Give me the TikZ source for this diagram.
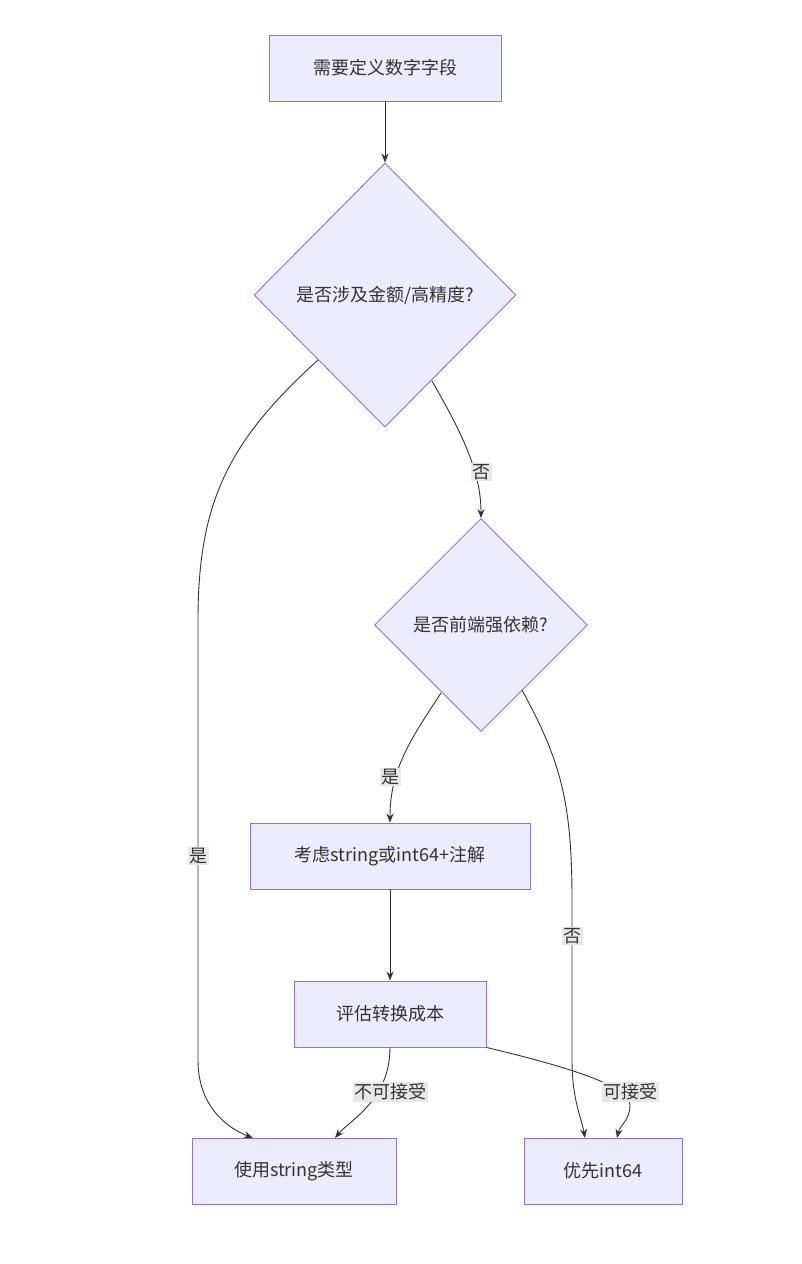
\documentclass[tikz,border=0pt]{standalone}
\usepackage{fontspec}
\setmainfont{Noto Sans CJK SC}
\usetikzlibrary{shapes.geometric,arrows.meta}
\definecolor{nfill}{HTML}{ECECFF}
\definecolor{nstroke}{HTML}{9370DB}
\definecolor{ln}{HTML}{333333}
\definecolor{lbg}{HTML}{E8E8E8}
\begin{document}
\begin{tikzpicture}[x=1pt,y=-1pt,
  every node/.style={font=\fontsize{18}{22}\selectfont, text=ln},
  box/.style={draw=nstroke, fill=nfill, line width=0.9pt, inner sep=0pt},
  dia/.style={draw=nstroke, fill=nfill, line width=0.9pt, diamond, inner sep=0pt},
  lab/.style={fill=lbg, inner sep=1.5pt},
  arr/.style={draw=ln, line width=0.9pt, -{Stealth[length=9pt,width=7pt]}}]
\useasboundingbox (0,0) rectangle (802,1264);
\node[box, minimum width=232pt, minimum height=66pt] (a) at (385,68) {需要定义数字字段};
\node[dia, minimum width=262pt, minimum height=264pt] (d1) at (385,295) {是否涉及金额/高精度?};
\node[dia, minimum width=213pt, minimum height=213pt] (d2) at (481,625) {是否前端强依赖?};
\node[box, minimum width=280pt, minimum height=66pt] (c) at (390,856) {考虑string或int64+注解};
\node[box, minimum width=192pt, minimum height=66pt] (e) at (390,1014) {评估转换成本};
\node[box, minimum width=204pt, minimum height=66pt] (s) at (294,1171) {使用string类型};
\node[box, minimum width=158pt, minimum height=66pt] (i) at (603,1171) {优先int64};
\coordinate (s1) at (318,360);
\coordinate (st) at (253,1138);
\coordinate (q1) at (432,381);
\coordinate (q2) at (441,693);
\coordinate (q3) at (522,690);
\coordinate (it) at (585,1138);
\coordinate (et) at (335,1138);
\coordinate (it2) at (617,1138);
\draw[arr] (a) -- (d1);
\draw[arr] (s1) .. controls (230,440) and (198,500) .. (198,620) -- (198,1060) .. controls (198,1100) and (220,1125) .. (st);
\node[lab] at (198,856) {是};
\draw[arr] (q1) .. controls (460,430) and (481,470) .. (d2.north);
\node[lab] at (481,472) {否};
\draw[arr] (q2) .. controls (410,740) and (390,770) .. (c.north);
\node[lab] at (390,777) {是};
\draw[arr] (q3) .. controls (560,760) and (572,800) .. (572,900) -- (572,1060) .. controls (572,1100) and (582,1120) .. (it);
\node[lab] at (572,936) {否};
\draw[arr] (c) -- (e);
\draw[arr] (e.south) .. controls (390,1100) and (350,1120) .. (et);
\node[lab] at (390,1092) {不可接受};
\draw[arr] (e.south east) .. controls (560,1065) and (630,1085) .. (630,1105) .. controls (630,1120) and (620,1125) .. (it2);
\node[lab] at (630,1092) {可接受};
\end{tikzpicture}
\end{document}
